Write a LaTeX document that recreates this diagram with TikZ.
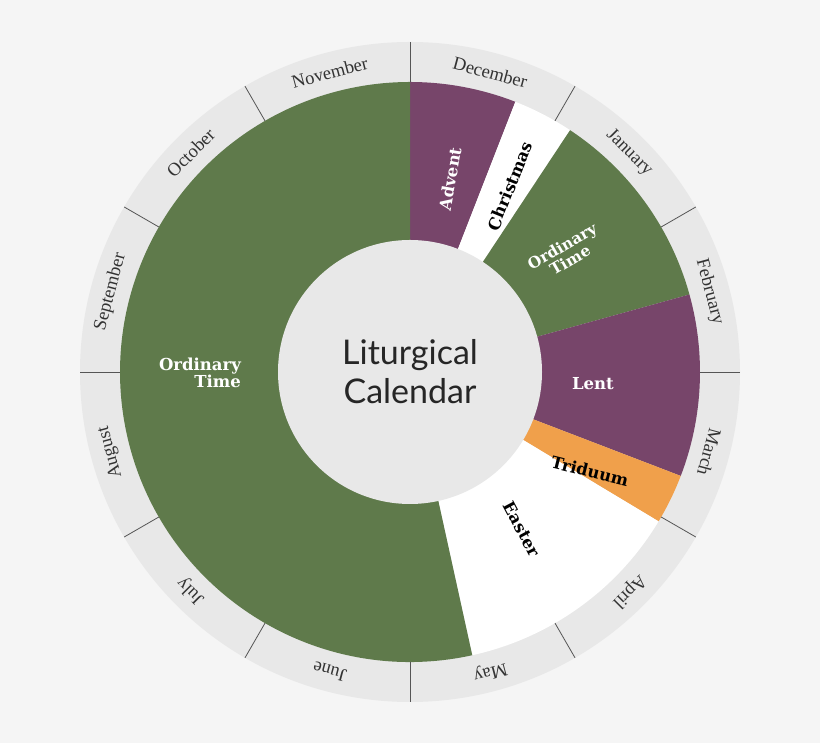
\documentclass[tikz,border=0pt]{standalone}
\usepackage{fontspec}
\setmainfont{Liberation Serif}
\newfontfamily\lblfont{DejaVu Serif}
\newfontfamily\ctrfont{Lato}
\definecolor{bgc}{HTML}{F5F5F5}
\definecolor{ringc}{HTML}{E8E8E8}
\definecolor{greenc}{HTML}{5F7A4B}
\definecolor{purplec}{HTML}{77456A}
\definecolor{orangec}{HTML}{F0A04B}
\definecolor{sepc}{HTML}{555555}
\tikzset{
  month/.style={font=\fontsize{18.5}{18}\selectfont, text=black!80},
  wlbl/.style={font=\lblfont\bfseries\fontsize{16.5}{17}\selectfont, align=center},
}
\newcommand{\wedgefill}[3]{\fill[#1] (0,0) -- (#2:290) arc[start angle=#2, end angle=#3, radius=290] -- cycle;}
\begin{document}
\begin{tikzpicture}[x=1pt,y=1pt]
\fill[bgc] (0,0) rectangle (820,743);
\useasboundingbox (0,0) rectangle (820,743);
\begin{scope}[shift={(410,371)}]
\fill[ringc] (0,0) circle[radius=330];
\wedgefill{purplec}{90}{68.7}
\wedgefill{white}{68.7}{56.5}
\wedgefill{greenc}{56.5}{15.5}
\wedgefill{purplec}{15.5}{-21}
\wedgefill{orangec}{-21}{-31}
\wedgefill{white}{-31}{-77.6}
\wedgefill{greenc}{-77.6}{-270}
\foreach \a in {90,60,...,-240} \draw[sepc, line width=0.8pt] (\a:290) -- (\a:330);
\foreach \m/\a [count=\i] in {December/75,January/45,February/15,March/-15,April/-45,May/-75,June/-105,July/-135,August/-165,September/165,October/135,November/105}
  \node[month, rotate=\a-90] (m\i) at (\a:310) {\m};
\fill[ringc] (0,0) circle[radius=132];
\node[font=\ctrfont\fontsize{34}{39}\selectfont, align=center, text=black!85] (ctr) at (0,0) {Liturgical\\Calendar};
\node[wlbl, text=white, rotate=80] (adv) at (40,193) {Advent};
\node[wlbl, text=black, rotate=68] (chr) at (100,186) {Christmas};
\node[wlbl, text=white, rotate=30, font=\lblfont\bfseries\fontsize{15.5}{16}\selectfont] (ot1) at (156,119) {Ordinary\\Time};
\node[wlbl, text=white] (lent) at (183,-12) {Lent};
\node[wlbl, text=black, rotate=-14] (tri) at (180,-99) {Triduum};
\node[wlbl, text=black, rotate=-62] (eas) at (112,-157) {Easter};
\node[wlbl, text=white, align=right] (ot2) at (-210,-1) {Ordinary\\Time};
\end{scope}
\end{tikzpicture}
\end{document}
